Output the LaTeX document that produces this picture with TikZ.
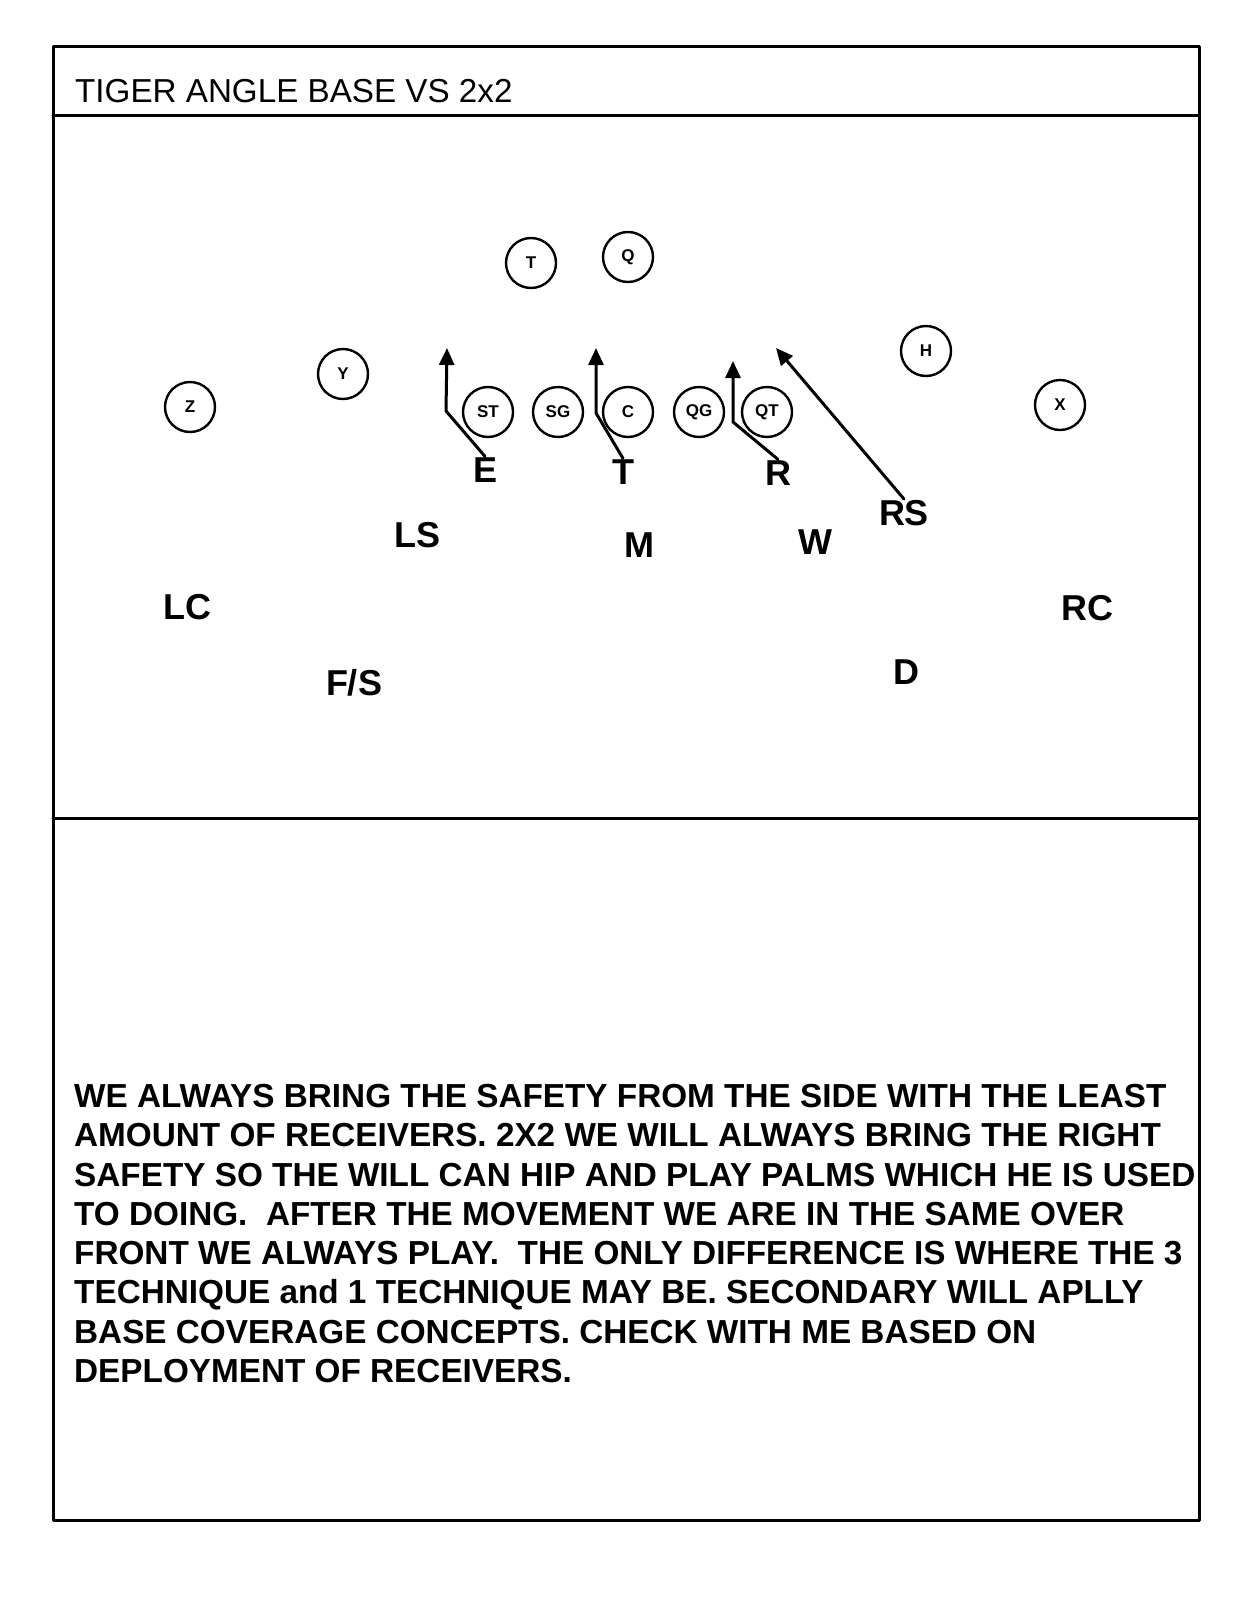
\documentclass[tikz,border=0pt]{standalone}
\usepackage{fontspec}
\setmainfont{Liberation Sans}
\usetikzlibrary{arrows.meta}
\begin{document}
\begin{tikzpicture}[x=1pt, y=-1pt, line join=round, line cap=round,
    player/.style={draw, circle, line width=2.4pt, minimum size=50pt, inner sep=0pt, font=\fontsize{17}{17}\selectfont\bfseries},
    defender/.style={inner sep=1pt, font=\fontsize{36}{36}\selectfont\bfseries},
    blitz/.style={line width=3pt, -{Triangle[length=17pt,width=15pt]}}]
    \useasboundingbox (0,0) rectangle (1237,1600);
    % frame
    \draw[line width=3pt] (53,47) rectangle (1199,1520);
    \draw[line width=3pt] (53,116) -- (1199,116);
    \draw[line width=3pt] (53,818) -- (1199,818);
    \node[anchor=base west, inner sep=0pt, font=\fontsize{33.2}{33.2}\selectfont] (title) at (75,103) {TIGER ANGLE BASE VS 2x2};
    % offense
    \node[player] (oZ) at (190,407) {Z};
    \node[player] (oY) at (343,374) {Y};
    \node[player] (oT) at (531,263) {T};
    \node[player] (oQ) at (628,257) {Q};
    \node[player] (oST) at (488,412) {ST};
    \node[player] (oSG) at (558,412) {SG};
    \node[player] (oC) at (628,412) {C};
    \node[player] (oQG) at (699,412) {QG};
    \node[player] (oQT) at (767,412) {QT};
    \node[player] (oH) at (926,351) {H};
    \node[player] (oX) at (1060,405) {X};
    % defense
    \node[defender] (dE) at (485,470) {E};
    \node[defender] (dT) at (623,472) {T};
    \node[defender] (dR) at (778,473) {R};
    \node[defender] (dRS) at (904,513) {RS};
    \node[defender] (dW) at (815,542) {W};
    \node[defender] (dM) at (639,545) {M};
    \node[defender] (dLS) at (417,535) {LS};
    \node[defender] (dLC) at (187,607) {LC};
    \node[defender] (dRC) at (1087,608) {RC};
    \node[defender] (dFS) at (354,683) {F/S};
    \node[defender] (dD) at (906,672) {D};
    % movement
    \coordinate (eBend) at (446,411); \coordinate (eEnd) at (447,348);
    \coordinate (tBend) at (596,413); \coordinate (tEnd) at (596,348);
    \coordinate (rBend) at (733,422); \coordinate (rEnd) at (733,361);
    \coordinate (rsEnd) at (776,348);
    \draw[blitz] (dE.north) -- (eBend) -- (eEnd);
    \draw[blitz] (dT.north) -- (tBend) -- (tEnd);
    \draw[blitz] (dR.north) -- (rBend) -- (rEnd);
    \draw[blitz] (dRS.north) -- (rsEnd);
    % notes
    \node[anchor=north west, align=left, inner sep=0pt, font=\fontsize{33.3}{39.3}\selectfont\bfseries] (notes) at (74,1084) {WE ALWAYS BRING THE SAFETY FROM THE SIDE WITH THE LEAST\\
AMOUNT OF RECEIVERS. 2X2 WE WILL ALWAYS BRING THE RIGHT\\
SAFETY SO THE WILL CAN HIP AND PLAY PALMS WHICH HE IS USED\\
TO DOING.\ \ AFTER THE MOVEMENT WE ARE IN THE SAME OVER\\
FRONT WE ALWAYS PLAY.\ \ THE ONLY DIFFERENCE IS WHERE THE 3\\
TECHNIQUE and 1 TECHNIQUE MAY BE. SECONDARY WILL APLLY\\
BASE COVERAGE CONCEPTS. CHECK WITH ME BASED ON\\
DEPLOYMENT OF RECEIVERS.};
\end{tikzpicture}
\end{document}
